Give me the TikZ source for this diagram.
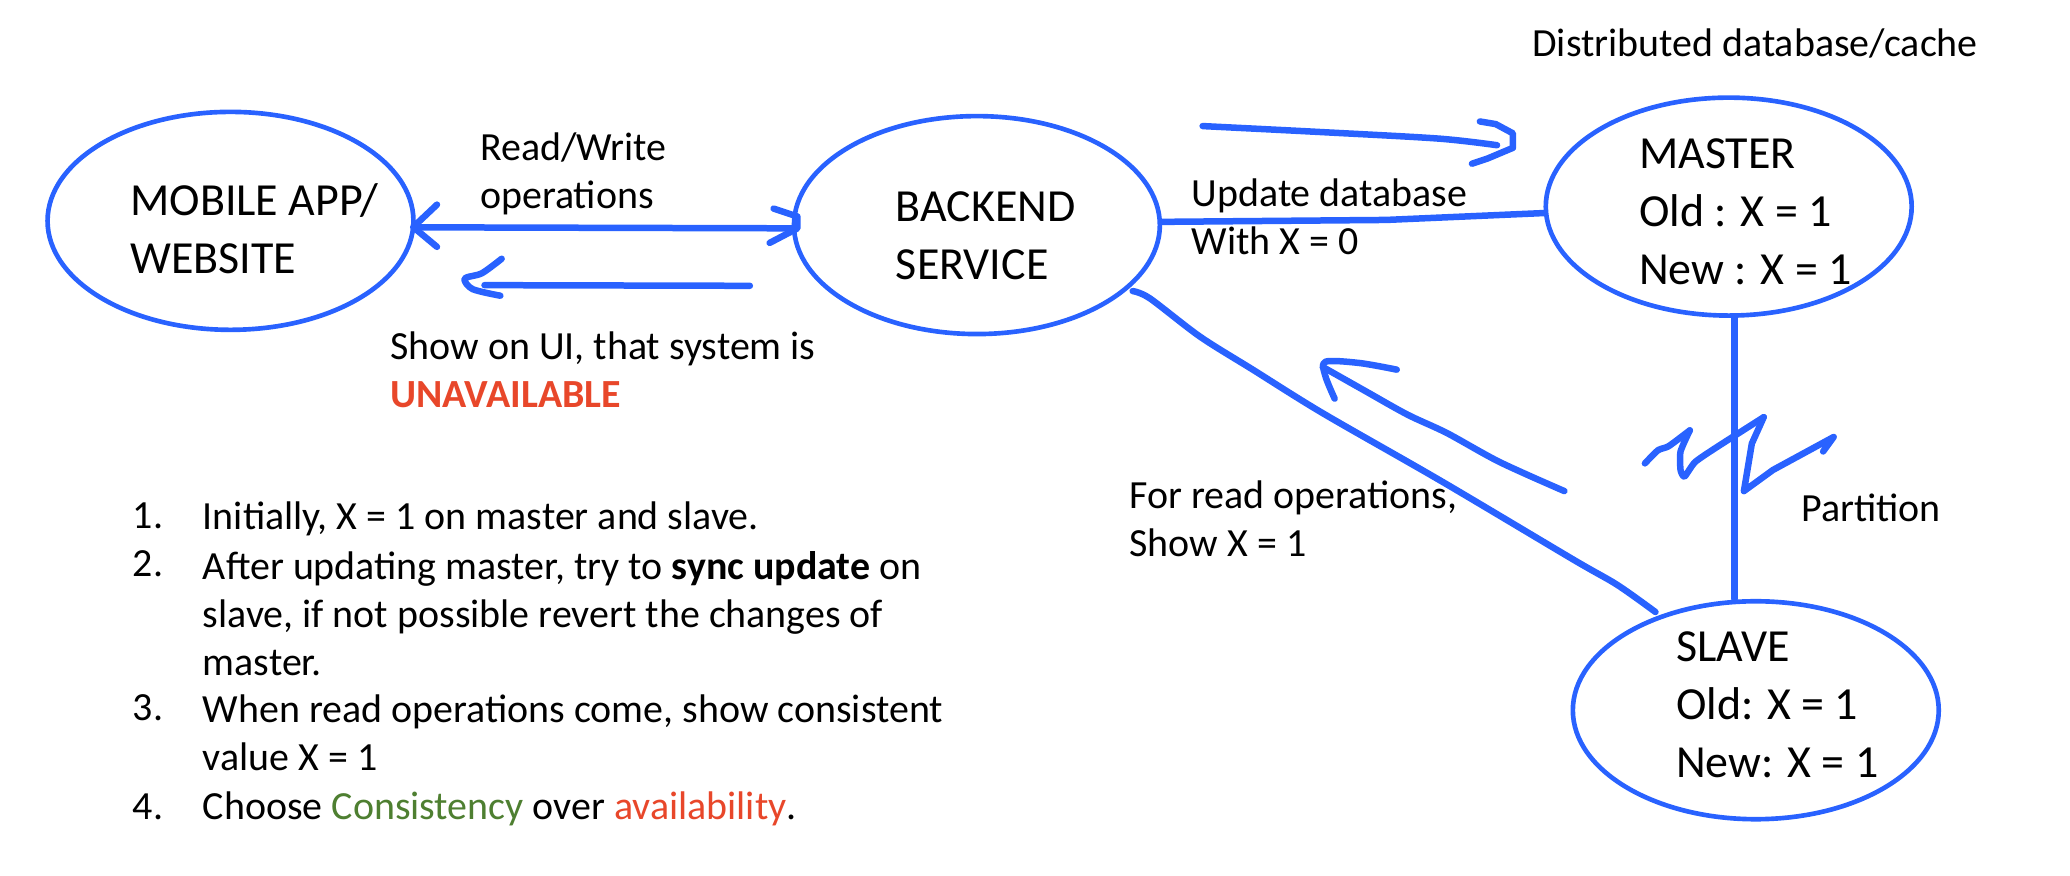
\documentclass[tikz,border=0pt]{standalone}
\usepackage{fontspec}
\setmainfont{Carlito}
\usepackage{xcolor}
\usetikzlibrary{calc,positioning,shapes.geometric}
\definecolor{penblue}{HTML}{2962FF}
\definecolor{alertred}{HTML}{E8472A}
\definecolor{okgreen}{HTML}{4E7F31}
\tikzset{%
	blob/.style  = {draw=penblue, ellipse, line width=1pt, inner sep=0pt, minimum width=2.77cm, minimum height=1.65cm},
	stroke/.style= {draw=penblue, line width=1.4pt, line cap=round, line join=round},
	bigtext/.style = {right, align=left, inner sep=0pt, font=\fontsize{9.9}{12.5}\selectfont},
	smalltext/.style = {right, align=left, inner sep=0pt, font=\fontsize{8.6}{10.3}\selectfont},
}
\begin{document}
\begin{tikzpicture}[x=0.01cm,y=-0.01cm]
	\useasboundingbox (0,0) rectangle (1568,663.5);
	% the four ellipses
	\node[blob] (mobile) at (174.6,167.3) {};
	\node[blob] (backend) at (740,170.5) {};
	\node[blob] (master) at (1309.5,156.5) {};
	\node[blob] (slave) at (1330,538) {};
	\node[bigtext] (mobiletext) at (98,173) {MOBILE APP/\\WEBSITE};
	\node[bigtext] (backendtext) at (678,178.5) {BACKEND\\SERVICE};
	\node[bigtext] (mastertext) at (1241,160.5) {MASTER\\Old : X = 1\\New : X = 1};
	\node[bigtext] (slavetext) at (1269,533.5) {SLAVE\\Old: X = 1\\New: X = 1};
	% labels
	\node[smalltext] (cachelabel) at (1160,33) {Distributed database/cache};
	\node[smalltext] (rwlabel) at (363,132) {Read/Write\\operations};
	\node[smalltext] (updatelabel) at (902,164) {Update database\\With X = 0};
	\node[smalltext] (uilabel) at (295,280) {Show on UI, that system is\\\textcolor{alertred}{\textbf{UNAVAILABLE}}};
	\node[smalltext] (readlabel) at (855,393) {For read operations,\\Show X = 1};
	\node[smalltext] (partlabel) at (1364,385) {Partition};
	% free ends
	\coordinate (backtip) at (352,211);
	\coordinate (backtail) at (568,216.5);
	\coordinate (toptail) at (911,95.5);
	\coordinate (toptip) at (1134,110);
	\coordinate (readtip) at (1002,278);
	\coordinate (readtail) at (1185,372);
	% connectors
	\draw[stroke] (mobile.-2) -- (backend.181);
	\draw[stroke] (backend.1.6) -- (1050,166.6) -- (master.182);
	\draw[stroke] (master.-87.5) -- (master.-87.5 |- slave.north);
	\draw[stroke] plot[smooth] coordinates {(858,220.5) (871,226) (909,255) (949,280) (1002,313) (1091,364) (1192,424) (1225,443) (1254,463.6)};
	% hand drawn arrow heads and arrows
	\draw[stroke] (331,155) -- (313,172) -- (331,187);
	\draw[stroke] (586,158) -- (604,164) -- (604,173) -- (583,184);
	\draw[stroke] (backtail) -- (367,216);
	\draw[stroke] plot[smooth] coordinates {(380,196) (365,207) (backtip) (358,219) (379,224)};
	\draw[stroke] plot[smooth] coordinates {(toptail) (1000,100) (1090,105) (toptip)};
	\draw[stroke] (1121,92) -- (1133,94) -- (1146,101) -- (1146,112) -- (1127,120) -- (1115,124);
	\draw[stroke] plot[smooth] coordinates {(readtail) (1136,350) (1096,328) (1066,314) (1033,295.5) (readtip)};
	\draw[stroke] plot[smooth] coordinates {(1058,280) (1030,275) (1004,274) (1004,285) (1011,302)};
	\draw[stroke] plot[smooth,tension=0.35] coordinates {(1246,351) (1256,341) (1264,338) (1280,326)};
	\draw[stroke] plot[smooth,tension=0.35] coordinates {(1280,326) (1273,342) (1273,356) (1276,361) (1284,350) (1300,339) (1336,316)};
	\draw[stroke] (1336,316) -- (1327,336) -- (1321,372) -- (1343,356) -- (1389,331) -- (1381,342);
	% numbered list
	\node[smalltext] (numa) at (100,391) {1.};
	\node[smalltext] (numb) at (100,427) {2.};
	\node[smalltext] (numc) at (100,536) {3.};
	\node[smalltext] (numd) at (100,611) {4.};
	\node[smalltext] (itema) at (153,393) {Initially, X = 1 on master and slave.};
	\node[smalltext] (itemb) at (153,465) {After updating master, try to \textbf{sync update} on\\slave, if not possible revert the changes of\\master.};
	\node[smalltext] (itemc) at (153,555) {When read operations come, show consistent\\value X = 1};
	\node[smalltext] (itemd) at (153,613) {Choose \textcolor{okgreen}{Consistency} over \textcolor{alertred}{availability}.};
\end{tikzpicture}
\end{document}
